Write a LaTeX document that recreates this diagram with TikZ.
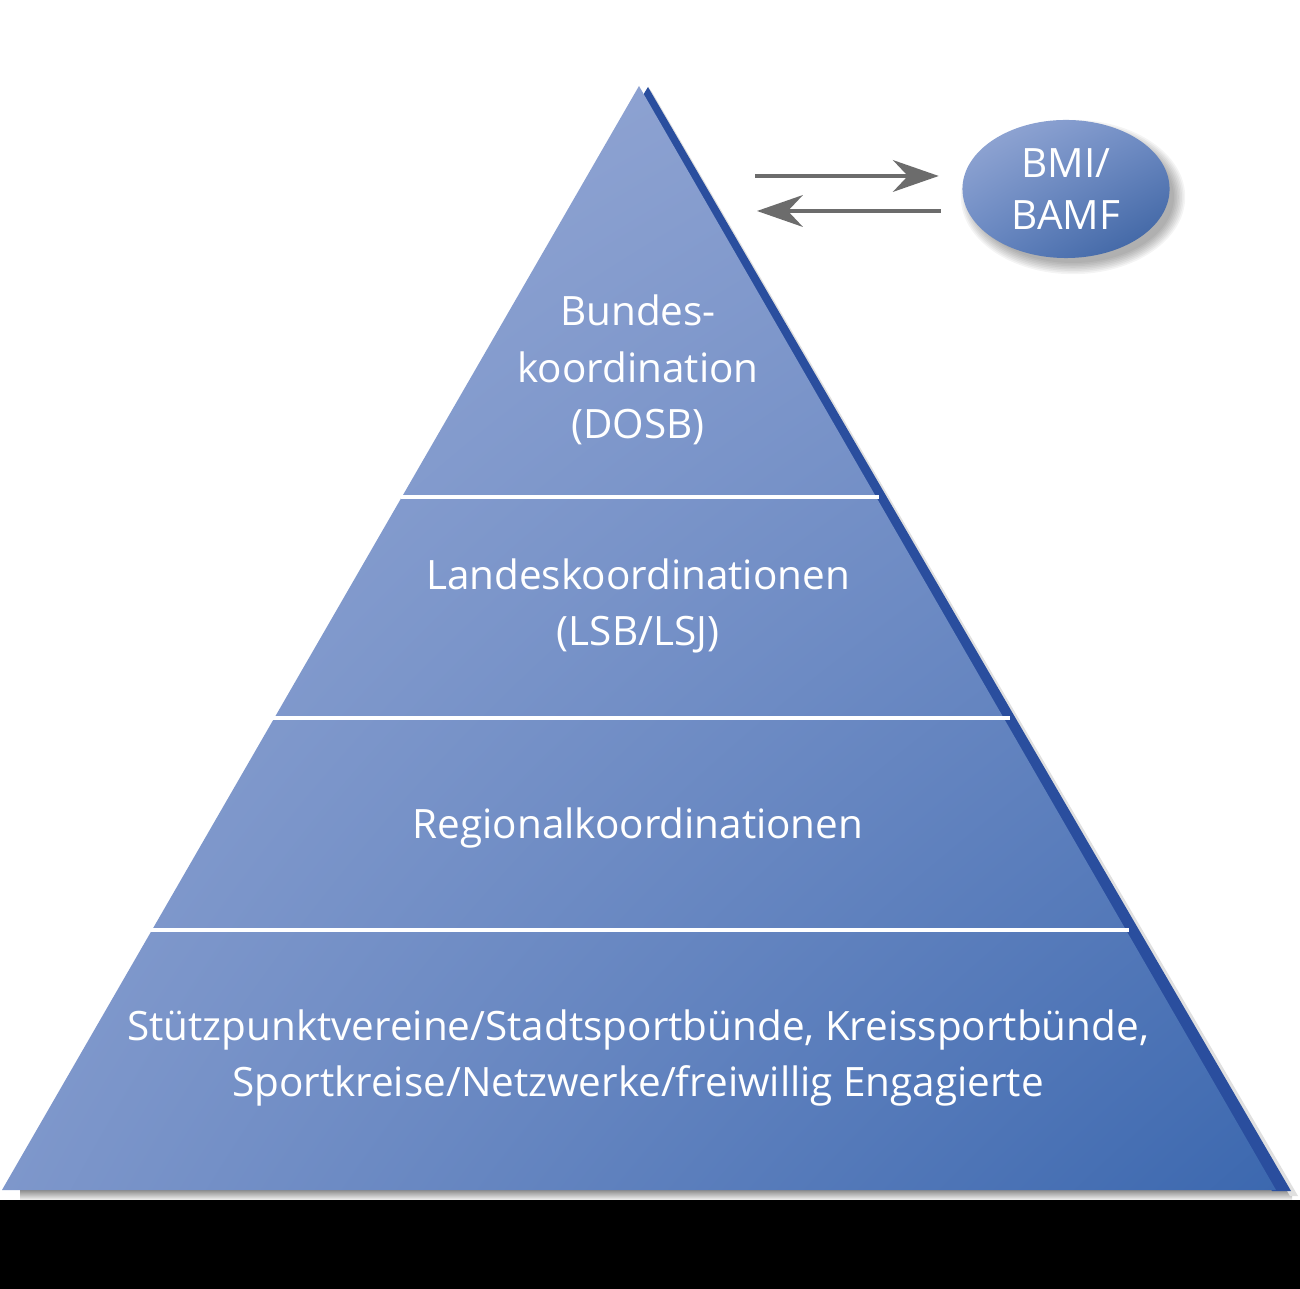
\documentclass[tikz,border=0pt]{standalone}
\usepackage{fontspec}
\setmainfont{Open Sans}
\usetikzlibrary{arrows.meta, shapes.geometric, shadings}

\definecolor{pyrlight}{HTML}{9AACD7}
\definecolor{pyrmidA}{HTML}{7F97CB}
\definecolor{pyrmidB}{HTML}{7E97CB}
\definecolor{pyrdark}{HTML}{3C68AF}
\definecolor{pyredge}{HTML}{2A4E9E}
\definecolor{arrowgrey}{HTML}{6C6C6C}

\begin{document}
\begin{tikzpicture}[x=0.01cm, y=-0.01cm,
      label/.style={text=white, align=center, font=\fontsize{11.5}{16}\selectfont},
      divider/.style={white, line width=1.1pt},
      flow/.style={-{Stealth[length=13pt, width=9pt]}, arrowgrey, line width=1.1pt},
      agency/.style={ellipse, minimum width=2.07cm, minimum height=1.38cm, inner sep=0pt,
                     upper left=pyrlight, upper right=pyrmidB!80!pyrdark,
                     lower left=pyrmidB!65!pyrdark, lower right=pyrdark!90!black,
                     text=white, align=center, font=\fontsize{11.5}{15}\selectfont}
    ]
      \useasboundingbox (0,0) rectangle (1300,1289);
      \fill[white] (0,0) rectangle (1300,1289);

      % shadow under the base and bottom bar
      \shade[top color=black!45, bottom color=white] (20,1190) rectangle (1292,1201);
      \fill[black] (0,1200) rectangle (1300,1289);

      % pyramid: dark edge, then face
      \fill[black!12] (652,92) -- (1298,1196) -- (1290,1196) -- (648,87) -- cycle;
      \fill[pyredge] (648,87) -- (1291,1191) -- (1272,1191) -- (640,100) -- cycle;
      \shade[upper left=pyrlight, upper right=pyrmidA, lower left=pyrmidB, lower right=pyrdark]
        (639,86) -- (1276,1190) -- (2,1190) -- cycle;

      \draw[divider] (401,497) -- (879,497);
      \draw[divider] (273,718) -- (1010,718);
      \draw[divider] (151,930) -- (1129,930);

      \node[label] (bund) at (638,370) {Bundes-\\koordination\\(DOSB)};
      \node[label] (land) at (638,606) {Landeskoordinationen\\(LSB/LSJ)};
      \node[label] (region) at (638,828) {Regionalkoordinationen};
      \node[label] (basis) at (638,1058) {Stützpunktvereine/Stadtsportbünde, Kreissportbünde,\\Sportkreise/Netzwerke/freiwillig Engagierte};

      % soft shadow of the ellipse
      \foreach \r in {0,...,7}
        \fill[black, opacity=0.045] (1073,197) ellipse ({101+\r*1.6} and {66+\r*1.6});
      \node[agency] (bmi) at (1066,189) {BMI/\\BAMF};

      \coordinate (outA) at (755,176);
      \coordinate (inB) at (757,211);
      \draw[flow, shorten >=0.23cm] (outA) -- (outA -| bmi.west);
      \draw[flow, shorten <=0.21cm] (inB -| bmi.west) -- (inB);
    \end{tikzpicture}
\end{document}
